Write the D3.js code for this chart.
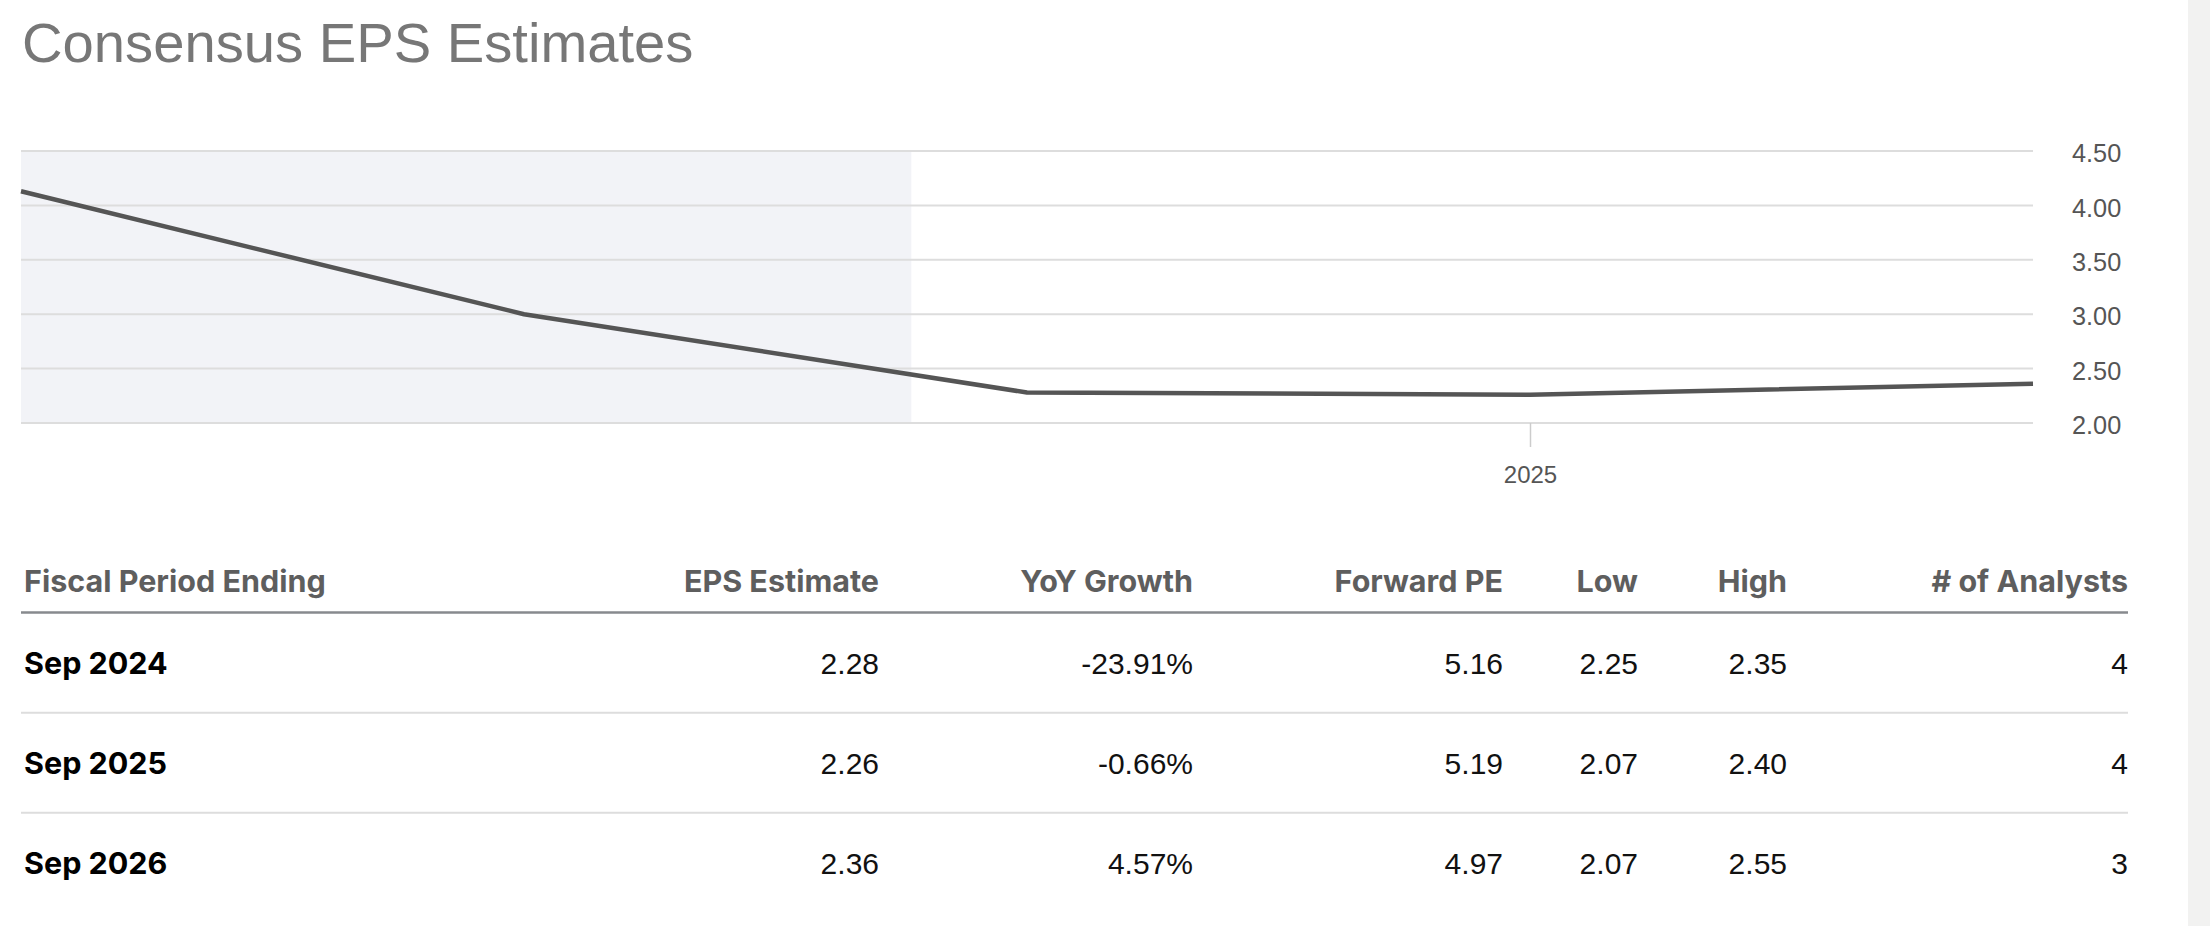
<!DOCTYPE html>
<html>
<head>
<meta charset="utf-8">
<script src="https://cdn.jsdelivr.net/npm/d3@7"></script>
<style>
  html, body { margin: 0; padding: 0; background: #fff; }
  svg { display: block; }
</style>
</head>
<body>
<svg id="chart" width="2210" height="926"></svg>
<script>
// datos del grafico
const fiscalYears = [2022, 2023, 2024, 2025, 2026];
const historicalEps = [4.13, 3.00];
const yTicks = [2.00, 2.50, 3.00, 3.50, 4.00, 4.50];
const xTicks = [2025];
const todayYear = 2023.77;

// datos de la tabla
const columnHeaders = ["Fiscal Period Ending", "EPS Estimate", "YoY Growth", "Forward PE", "Low", "High", "# of Analysts"];
const periods = ["Sep 2024", "Sep 2025", "Sep 2026"];
const epsEstimate = [2.28, 2.26, 2.36];
const yoyGrowth = [-23.91, -0.66, 4.57];
const forwardPE = [5.16, 5.19, 4.97];
const lowEstimate = [2.25, 2.07, 2.07];
const highEstimate = [2.35, 2.40, 2.55];
const numAnalysts = [4, 4, 3];

const epsSeries = historicalEps.concat(epsEstimate);
const points = fiscalYears.map((y, i) => ({year: y, eps: epsSeries[i]}));

const svg = d3.select("#chart");
const font = "'Liberation Sans', Arial, Helvetica, sans-serif";
const boldFont = "Inter, 'Liberation Sans', Arial, sans-serif";

// formato con guion normal
const locale = d3.formatLocale({decimal: ".", thousands: ",", grouping: [3], currency: ["$", ""], minus: "-"});
const fmt2 = locale.format(".2f");

// franja gris a la derecha
svg.append("rect")
    .attr("x", 2188).attr("y", 0)
    .attr("width", 22).attr("height", 926)
    .attr("fill", "#f2f2f1");

// titulo
svg.append("text")
    .attr("x", 22).attr("y", 62)
    .attr("font-family", font)
    .attr("font-size", 56.2)
    .attr("fill", "#777777")
    .text("Consensus EPS Estimates");

// escalas
const left = 21, right = 2033;
const x = d3.scaleLinear().domain([2022, 2026]).range([left, right]);
const y = d3.scaleLinear().domain([2.00, 4.50]).range([423, 151]);

// zona sombreada (historico)
svg.append("rect")
    .attr("x", x(2022))
    .attr("y", y(4.50))
    .attr("width", x(todayYear) - x(2022))
    .attr("height", y(2.00) - y(4.50))
    .attr("fill", "#f2f3f7");

// lineas de la grilla
svg.append("g")
    .selectAll("line")
    .data(yTicks)
    .enter()
    .append("line")
    .attr("x1", left).attr("x2", right)
    .attr("y1", d => y(d)).attr("y2", d => y(d))
    .attr("stroke", "#dddddd")
    .attr("stroke-width", 2);

// eje y a la derecha
const yAxis = svg.append("g")
    .attr("transform", "translate(2072,0)")
    .call(d3.axisRight(y).tickValues(yTicks).tickFormat(fmt2).tickSize(0).tickPadding(0));
yAxis.select(".domain").remove();
yAxis.selectAll("text")
    .attr("font-family", font)
    .attr("font-size", 25.3)
    .attr("fill", "#555555")
    .attr("dy", "0.42em");

// eje x
const xAxis = svg.append("g")
    .attr("transform", "translate(0," + y(2.00) + ")")
    .call(d3.axisBottom(x).tickValues(xTicks).tickFormat(d3.format("d")).tickSize(24).tickPadding(19));
xAxis.select(".domain").remove();
xAxis.selectAll(".tick line")
    .attr("stroke", "#cccccc")
    .attr("stroke-width", 1.5);
xAxis.selectAll("text")
    .attr("font-family", font)
    .attr("font-size", 24)
    .attr("fill", "#555555");

// linea de EPS
const line = d3.line()
    .x(d => x(d.year))
    .y(d => y(d.eps));

svg.append("path")
    .datum(points)
    .attr("d", line)
    .attr("fill", "none")
    .attr("stroke", "#555555")
    .attr("stroke-width", 4.5)
    .attr("stroke-linejoin", "round");

// tabla
const colRight = [null, 879, 1193, 1503, 1638, 1787, 2128];
const tableLeft = 24, tableRight = 2128;
const headerBase = 592;
const rowBase = [674, 774, 874];

const rows = periods.map((p, i) => [
    p,
    fmt2(epsEstimate[i]),
    fmt2(yoyGrowth[i]) + "%",
    fmt2(forwardPE[i]),
    fmt2(lowEstimate[i]),
    fmt2(highEstimate[i]),
    String(numAnalysts[i])
]);

const table = svg.append("g");

table.selectAll("text.header")
    .data(columnHeaders)
    .enter()
    .append("text")
    .attr("class", "header")
    .attr("x", (d, i) => i === 0 ? tableLeft : colRight[i])
    .attr("y", headerBase)
    .attr("text-anchor", (d, i) => i === 0 ? "start" : "end")
    .attr("font-family", boldFont)
    .attr("font-weight", 700)
    .attr("font-size", 30.5)
    .attr("fill", "#5e5e5e")
    .text(d => d);

table.append("line")
    .attr("x1", 21).attr("x2", tableRight)
    .attr("y1", 612.5).attr("y2", 612.5)
    .attr("stroke", "#878a8e")
    .attr("stroke-width", 2.5);

table.selectAll("line.sep")
    .data([712.7, 812.7])
    .enter()
    .append("line")
    .attr("class", "sep")
    .attr("x1", 21).attr("x2", tableRight)
    .attr("y1", d => d).attr("y2", d => d)
    .attr("stroke", "#dddddd")
    .attr("stroke-width", 2);

rows.forEach((r, ri) => {
    table.append("g")
        .selectAll("text")
        .data(r)
        .enter()
        .append("text")
        .attr("x", (d, i) => i === 0 ? tableLeft : colRight[i])
        .attr("y", rowBase[ri])
        .attr("text-anchor", (d, i) => i === 0 ? "start" : "end")
        .attr("font-family", (d, i) => i === 0 ? boldFont : font)
        .attr("font-weight", (d, i) => i === 0 ? 700 : "normal")
        .attr("font-size", (d, i) => i === 0 ? 30.5 : 30)
        .attr("fill", (d, i) => i === 0 ? "#000000" : "#111111")
        .text(d => d);
});
</script>
</body>
</html>
